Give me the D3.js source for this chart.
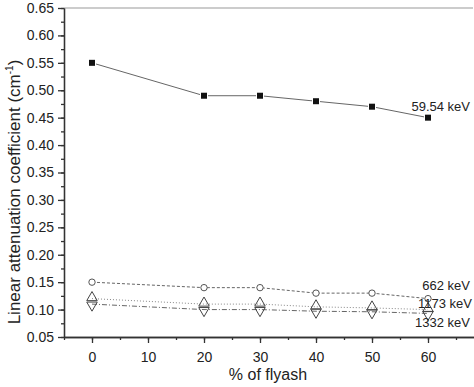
<!DOCTYPE html>
<html><head><meta charset="utf-8">
<script src="https://cdn.jsdelivr.net/npm/d3@7"></script>
<style>body{margin:0;background:#fff}svg{display:block}text{font-family:"Liberation Sans",Arial,sans-serif;fill:#222}</style>
</head><body><svg id="c" width="474" height="387"></svg>
<script>
const flyash = [0, 20, 30, 40, 50, 60];
const kev59 = [0.55, 0.49, 0.49, 0.48, 0.47, 0.45];
const kev662 = [0.15, 0.14, 0.14, 0.13, 0.13, 0.12];
const kev1173 = [0.12, 0.11, 0.11, 0.105, 0.103, 0.10];
const kev1332 = [0.11, 0.10, 0.10, 0.097, 0.096, 0.093];
const seriesNames = ["59.54 keV", "662 keV", "1173 keV", "1332 keV"];
const xTicks = [0, 10, 20, 30, 40, 50, 60];
const yTicks = [0.05,0.10,0.15,0.20,0.25,0.30,0.35,0.40,0.45,0.50,0.55,0.60,0.65];

const svg = d3.select("#c");
const x = d3.scaleLinear().domain([-5, 70]).range([64, 484]);
const y = d3.scaleLinear().domain([0.05, 0.65]).range([337, 8]);
const axisColor = "#333";

svg.append("line").attr("x1", 64).attr("x2", 473).attr("y1", y(0.65)).attr("y2", y(0.65))
  .attr("stroke", "#999").attr("stroke-width", 1.2);

const yAx = svg.append("g").attr("transform", "translate(64,0)");
yAx.call(d3.axisLeft(y).tickValues(d3.range(0.05, 0.651, 0.025)).tickFormat("").tickSize(3).tickSizeOuter(0));
yAx.append("g").call(d3.axisLeft(y).tickValues(yTicks).tickFormat(d3.format(".2f")).tickSize(6).tickSizeOuter(0));
yAx.selectAll("text").attr("font-size", 14).attr("dx", -1).style("font-family", "Liberation Sans, Arial, sans-serif").attr("fill", "#222");
yAx.selectAll("path,line").attr("stroke", axisColor).attr("stroke-width", 1.3);

const xAx = svg.append("g").attr("transform", "translate(0,337)");
xAx.call(d3.axisBottom(x).tickValues(d3.range(-5, 70, 5)).tickFormat("").tickSize(3).tickSizeOuter(0));
xAx.append("g").call(d3.axisBottom(x).tickValues(xTicks).tickFormat(d3.format("d")).tickSize(6).tickSizeOuter(0));
xAx.selectAll("text").attr("font-size", 14).attr("dy", "1.15em").style("font-family", "Liberation Sans, Arial, sans-serif").attr("fill", "#222");
xAx.selectAll("path,line").attr("stroke", axisColor).attr("stroke-width", 1.3);

svg.append("text").attr("x", 268).attr("y", 380).attr("text-anchor", "middle").attr("font-size", 16).text("% of flyash");
const yt = svg.append("text").attr("transform", "translate(20,192) rotate(-90)").attr("text-anchor", "middle").attr("font-size", 17);
yt.append("tspan").text("Linear attenuation coefficient (cm");
yt.append("tspan").attr("dy", -7).attr("font-size", 10).text("-1");
yt.append("tspan").attr("dy", 7).text(")");

const line = vals => d3.line().x((d, i) => x(flyash[i])).y(d => y(d))(vals);

const specs = [
  {vals: kev59, dash: null, color: "#666"},
  {vals: kev662, dash: "3,2", color: "#666"},
  {vals: kev1173, dash: "1,2", color: "#888"},
  {vals: kev1332, dash: "5,2,1,2", color: "#666"}
];
specs.forEach(s => {
  svg.append("path").attr("d", line(s.vals)).attr("fill", "none").attr("stroke", s.color)
    .attr("stroke-width", 1).attr("stroke-dasharray", s.dash);
});

svg.selectAll(".sq").data(kev59).join("rect")
  .attr("x", (d, i) => x(flyash[i]) - 3).attr("y", d => y(d) - 3).attr("width", 6).attr("height", 6)
  .attr("fill", "#111").attr("stroke", "#fff").attr("stroke-width", 2).attr("paint-order", "stroke");
svg.selectAll(".ci").data(kev662).join("circle")
  .attr("cx", (d, i) => x(flyash[i])).attr("cy", d => y(d)).attr("r", 3.2)
  .attr("fill", "#fff").attr("stroke", "#555").attr("stroke-width", 1);
const tri = d3.symbol().type(d3.symbolTriangle).size(48);
svg.selectAll(".tu").data(kev1173).join("path")
  .attr("d", tri).attr("transform", (d, i) => `translate(${x(flyash[i])},${y(d) - 1})`)
  .attr("fill", "none").attr("stroke", "#444").attr("stroke-width", 1);
svg.selectAll(".td").data(kev1332).join("path")
  .attr("d", tri).attr("transform", (d, i) => `translate(${x(flyash[i])},${y(d) + 1}) rotate(180)`)
  .attr("fill", "none").attr("stroke", "#444").attr("stroke-width", 1);

const lab = [
  {t: seriesNames[0], x: 470, y: 111},
  {t: seriesNames[1], x: 470, y: 290},
  {t: seriesNames[2], x: 472, y: 308},
  {t: seriesNames[3], x: 470, y: 327}
];
svg.selectAll(".lab").data(lab).join("text").attr("x", d => d.x).attr("y", d => d.y)
  .attr("text-anchor", "end").attr("font-size", 13).text(d => d.t);
</script></body></html>
